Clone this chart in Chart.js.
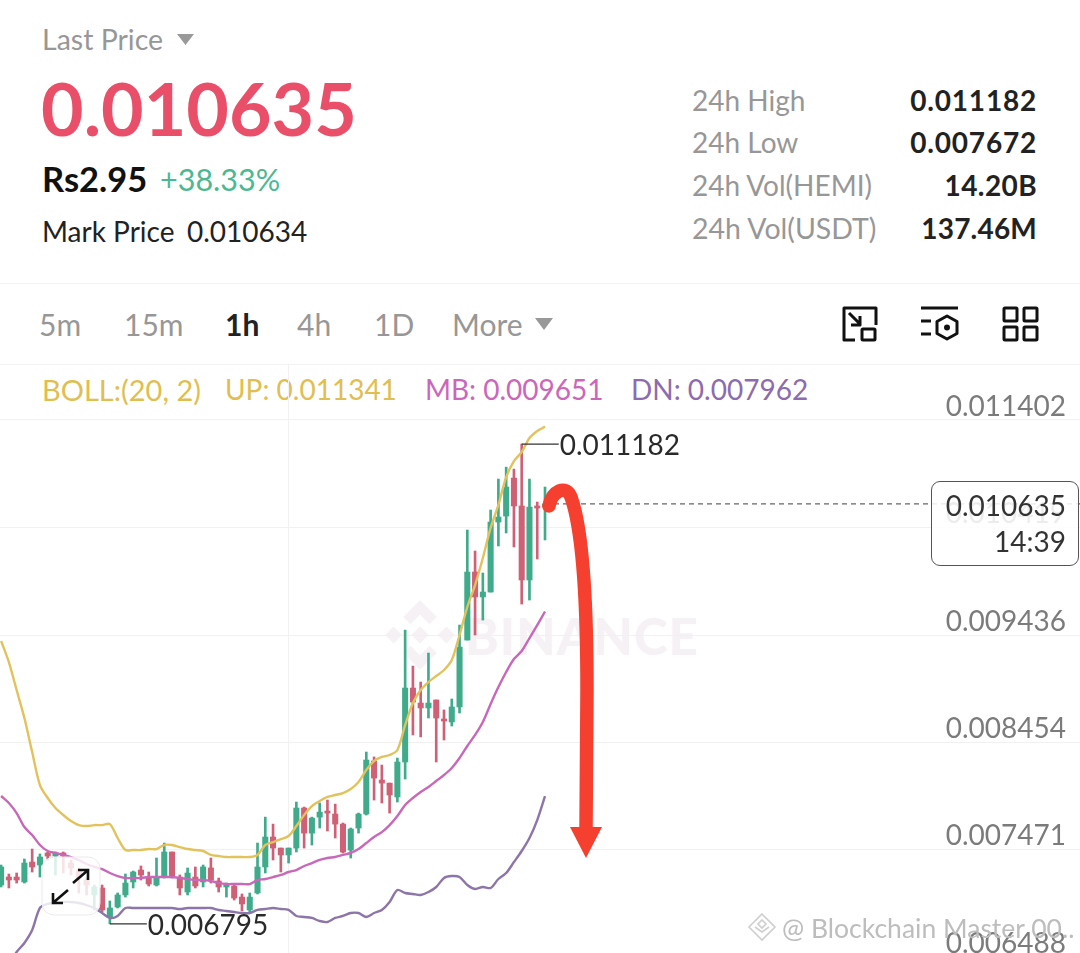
<!DOCTYPE html>
<html><head><meta charset="utf-8">
<script src="https://cdn.jsdelivr.net/npm/chart.js@4/dist/chart.umd.min.js"></script>
<style>
html,body{margin:0;padding:0;width:1080px;height:953px;overflow:hidden;background:#fff;font-family:Lato,sans-serif}
.t{position:absolute;white-space:nowrap;line-height:1;transform:translateY(-50%)}
.r{transform:translate(-100%,-50%)}
.g{color:#979797}
#wm,#box,svg.o,canvas{position:absolute}
</style></head><body>
<div class="t g" style="left:42px;top:39px;font-size:28.500px">Last Price</div>
<div class="t" style="left:41px;top:108px;font-size:73.500px;font-weight:700;color:#EA4F69">0.010635</div>
<div class="t" style="left:42px;top:179px;font-size:34.500px;font-weight:700;color:#111">Rs2.95</div>
<div class="t" style="left:160px;top:179px;font-size:30.500px;color:#4CB892">+38.33%</div>
<div class="t" style="left:42px;top:231px;font-size:28px;color:#222">Mark Price</div>
<div class="t" style="left:187px;top:231px;font-size:28px;color:#222">0.010634</div>
<div class="t g" style="left:692px;top:100px;font-size:28px">24h High</div>
<div class="t g" style="left:692px;top:142px;font-size:28px">24h Low</div>
<div class="t g" style="left:692px;top:185px;font-size:28px">24h Vol(HEMI)</div>
<div class="t g" style="left:692px;top:228px;font-size:28.500px">24h Vol(USDT)</div>
<div class="t r" style="left:1037px;top:100px;font-size:28px;font-weight:700;letter-spacing:.8px;color:#222">0.011182</div>
<div class="t r" style="left:1037px;top:142px;font-size:28px;font-weight:700;letter-spacing:.8px;color:#222">0.007672</div>
<div class="t r" style="left:1037px;top:185px;font-size:28px;font-weight:700;letter-spacing:.4px;color:#222">14.20B</div>
<div class="t r" style="left:1037px;top:228px;font-size:28px;font-weight:700;letter-spacing:.2px;color:#222">137.46M</div>
<div style="position:absolute;left:0;top:283px;width:1080px;height:1px;background:#f4f4f4"></div>
<div style="position:absolute;left:0;top:364px;width:1080px;height:1px;background:#f2f2f2"></div>
<div class="t g" style="left:39px;top:324px;font-size:30px">5m</div>
<div class="t g" style="left:124px;top:324px;font-size:30px">15m</div>
<div class="t" style="left:225px;top:324px;font-size:30px;font-weight:700;color:#222">1h</div>
<div class="t g" style="left:297px;top:324px;font-size:30px">4h</div>
<div class="t g" style="left:374px;top:324px;font-size:30px">1D</div>
<div class="t g" style="left:452px;top:324px;font-size:30px">More</div>
<div class="t" style="left:42px;top:389px;font-size:29px;color:#E0BE50">BOLL:(20, 2)</div>
<div class="t" style="left:225px;top:389px;font-size:28px;color:#E0BE50">UP: 0.011341</div>
<div class="t" style="left:425px;top:389px;font-size:28px;color:#CC66BB">MB: 0.009651</div>
<div class="t" style="left:631px;top:389px;font-size:28px;color:#8E6BAD">DN: 0.007962</div>
<div id="wm" class="t" style="left:465px;top:635px;font-size:51px;font-weight:900;color:#f6f1f5;letter-spacing:1px">BINANCE</div>
<svg class="o" width="1080" height="953" style="left:0;top:0">
<g fill="#f6f1f5" transform="translate(420 635) scale(1.2) translate(-427 -635)"><path d="M427 606l14 14-6 6-8-8-8 8-6-6zM427 664l-14-14 6-6 8 8 8-8 6 6zM398 635l7-7 7 7-7 7zM442 635l7-7 7 7-7 7zM427 628l7 7-7 7-7-7z"/></g>
</svg>
<canvas id="c" width="1080" height="620" style="left:0;top:364px;width:1080px;height:620px"></canvas>
<div id="box" style="left:931px;top:481px;width:146px;height:83px;border:1.5px solid #555;border-radius:9px;background:rgba(255,255,255,.86)"></div>
<div class="t r" style="left:1066px;top:505px;font-size:28px;color:#333">0.010635</div>
<div class="t r" style="left:1066px;top:541px;font-size:28px;color:#333">14:39</div>
<div class="t" style="left:782px;top:928px;font-size:26.500px;color:#bdbdbd">@ Blockchain Master 00..</div>
<svg class="o" width="1080" height="953" style="left:0;top:0">
<path d="M177 34h17l-8.500 11zM535 318h18l-9 12z" fill="#999"/>
<rect x="42" y="857" width="58" height="58" rx="12" fill="rgba(255,255,255,.82)" stroke="#eee8ee" stroke-width="1"/>
<g fill="none" stroke="#111" stroke-width="2.600">
<path d="M73 883L87 871M78 870h10v10M68 890L54 902M53 893v10h10"/>
</g>
<g fill="none" stroke="#111" stroke-width="3" stroke-linejoin="round">
<path d="M855 340h-11v-32h32v17M849 313l11 11M851 325h9v-9"/><rect x="862" y="329" width="13" height="11" rx="1"/>
<path d="M921 308h37M921 321h10M921 334h10"/><path d="M947 316l10 5.500v12l-10 5.500-10-5.500v-12z"/><circle cx="947" cy="327.500" r="1.500"/>
<rect x="1004" y="308" width="13" height="13" rx="1"/><rect x="1024" y="308" width="13" height="13" rx="1"/><rect x="1004" y="327" width="13" height="13" rx="1"/><rect x="1024" y="327" width="13" height="13" rx="1"/>
</g>
<g fill="none" stroke="#cfcfcf" stroke-width="1.600"><path d="M762 914l13 13-13 13-13-13z"/><path d="M755 927l7 5 7-5"/><path d="M762 920l4 4-4 4-4-4z"/></g>
<path d="M549 506C552 491 566 484 571 497C581 525 587 590 587 690L586 830" fill="none" stroke="#F5402F" stroke-width="13.500" stroke-linecap="round"/>
<path d="M570 827h32l-16 31z" fill="#F5402F"/>
</svg>
<script>
// Hourly HEMI/USDT candles, oldest first (index = candle number)
const opens=[0.007150,0.007223,0.007223,0.007178,0.007360,0.007333,0.007443,0.007415,0.007443,0.007351,0.007287,0.007196,0.007059,0.007123,0.006858,0.006949,0.007059,0.007178,0.007287,0.007223,0.007150,0.007223,0.007452,0.007223,0.007086,0.007223,0.007178,0.007306,0.007187,0.007132,0.007141,0.007040,0.006922,0.007077,0.007315,0.007589,0.007488,0.007425,0.007488,0.007854,0.007625,0.007771,0.007826,0.007799,0.007707,0.007470,0.007671,0.007799,0.008284,0.008110,0.008082,0.007955,0.008275,0.008951,0.008814,0.008769,0.008842,0.008668,0.008641,0.008778,0.009390,0.010012,0.009784,0.009829,0.010469,0.010524,0.010871,0.010616,0.009939,0.010616,0.010606];
const closes=[0.007315,0.007196,0.007196,0.007351,0.007315,0.007406,0.007415,0.007443,0.007415,0.007306,0.007214,0.007150,0.007132,0.006922,0.006940,0.007059,0.007168,0.007269,0.007242,0.007159,0.007223,0.007452,0.007223,0.007123,0.007260,0.007141,0.007315,0.007196,0.007132,0.007150,0.007031,0.006977,0.007040,0.007315,0.007589,0.007488,0.007425,0.007488,0.007854,0.007625,0.007762,0.007817,0.007808,0.007707,0.007452,0.007662,0.007799,0.008293,0.008128,0.008082,0.007973,0.008275,0.008951,0.008823,0.008769,0.008814,0.008677,0.008650,0.008778,0.009326,0.010012,0.009784,0.009829,0.010469,0.010515,0.010789,0.010616,0.009939,0.010606,0.010597,0.010635];
const highs=[0.007333,0.007251,0.007260,0.007388,0.007479,0.007434,0.007452,0.007452,0.007452,0.007379,0.007306,0.007214,0.007150,0.007150,0.007004,0.007077,0.007251,0.007278,0.007324,0.007269,0.007397,0.007534,0.007452,0.007242,0.007306,0.007315,0.007333,0.007397,0.007214,0.007168,0.007150,0.007068,0.007077,0.007534,0.007771,0.007707,0.007488,0.007488,0.007909,0.007863,0.007771,0.007900,0.007927,0.007890,0.007717,0.007671,0.007808,0.008366,0.008321,0.008247,0.008082,0.008311,0.009481,0.009152,0.009006,0.009271,0.008842,0.008751,0.008851,0.009527,0.010396,0.010204,0.010003,0.010579,0.010862,0.010971,0.010953,0.011182,0.010862,0.010652,0.010789];
const lows=[0.007132,0.007123,0.007168,0.007168,0.007269,0.007223,0.007379,0.007242,0.007260,0.007242,0.007077,0.007059,0.006922,0.006903,0.006795,0.006940,0.007040,0.007123,0.007196,0.007141,0.007141,0.007214,0.007214,0.007059,0.007059,0.007123,0.007132,0.007168,0.007086,0.007040,0.007013,0.006913,0.006903,0.007068,0.007260,0.007379,0.007269,0.007351,0.007452,0.007488,0.007516,0.007671,0.007644,0.007580,0.007443,0.007397,0.007625,0.007790,0.007927,0.007900,0.007808,0.007909,0.008119,0.008522,0.008504,0.008677,0.008275,0.008476,0.008604,0.008723,0.009390,0.009436,0.009573,0.009829,0.010250,0.010369,0.010241,0.009719,0.009756,0.010131,0.010305];
const bollUp=[0.009381,0.009189,0.008933,0.008677,0.008366,0.008064,0.007946,0.007854,0.007790,0.007735,0.007698,0.007689,0.007698,0.007698,0.007707,0.007580,0.007470,0.007470,0.007470,0.007479,0.007479,0.007516,0.007516,0.007497,0.007479,0.007470,0.007461,0.007425,0.007415,0.007406,0.007406,0.007406,0.007406,0.007425,0.007516,0.007543,0.007570,0.007598,0.007689,0.007790,0.007872,0.007918,0.007955,0.007973,0.007991,0.008028,0.008092,0.008201,0.008284,0.008321,0.008339,0.008385,0.008613,0.008814,0.008933,0.009006,0.009061,0.009116,0.009207,0.009436,0.009692,0.009893,0.010140,0.010415,0.010625,0.010880,0.011026,0.011109,0.011237,0.011301,0.011341];
const bollMb=[0.007964,0.007900,0.007808,0.007680,0.007607,0.007516,0.007461,0.007443,0.007425,0.007406,0.007379,0.007342,0.007315,0.007296,0.007260,0.007232,0.007214,0.007214,0.007214,0.007223,0.007223,0.007223,0.007223,0.007214,0.007205,0.007196,0.007196,0.007187,0.007168,0.007159,0.007159,0.007159,0.007159,0.007196,0.007205,0.007223,0.007242,0.007269,0.007287,0.007324,0.007351,0.007379,0.007397,0.007406,0.007425,0.007443,0.007479,0.007534,0.007589,0.007634,0.007698,0.007781,0.007881,0.007946,0.008001,0.008046,0.008101,0.008156,0.008220,0.008311,0.008421,0.008522,0.008641,0.008805,0.008960,0.009098,0.009216,0.009290,0.009408,0.009527,0.009651];
const bollDn=[0.006327,0.006419,0.006538,0.006620,0.006739,0.006940,0.006977,0.006986,0.006995,0.006995,0.006986,0.006967,0.006940,0.006894,0.006849,0.006867,0.006940,0.006940,0.006940,0.006940,0.006940,0.006940,0.006940,0.006931,0.006940,0.006940,0.006940,0.006940,0.006922,0.006913,0.006903,0.006894,0.006894,0.006922,0.006931,0.006940,0.006931,0.006922,0.006867,0.006858,0.006849,0.006821,0.006812,0.006849,0.006867,0.006894,0.006894,0.006858,0.006894,0.006922,0.006995,0.007104,0.007077,0.007068,0.007059,0.007086,0.007132,0.007214,0.007232,0.007223,0.007150,0.007114,0.007132,0.007123,0.007205,0.007260,0.007360,0.007461,0.007580,0.007744,0.007962];
const priceTicks=[0.011402,0.010419,0.009436,0.008454,0.007471,0.006488];
const lastPrice=0.010635, highPrice=0.011182, lowPrice=0.006795;
const highIndex=67, lowIndex=14, gridIndex=37, xMin=-0.14, xMax=138.85, yMin=0.006245, yMax=0.011914;

const UP='#3FAB8B', DOWN='#CF6075';
const colors=opens.map((o,i)=>closes[i]>=o?UP:DOWN);
const lineSet=(label,arr,color)=>({type:'line',label,data:arr.map((y,x)=>({x,y})),borderColor:color,borderWidth:2.4,pointRadius:0,tension:0.3,order:1});
const noPad=s=>{s.paddingTop=0;s.paddingBottom=0;s.paddingLeft=0;s.paddingRight=0;};

const markers={id:'markers',afterDatasetsDraw(ch){
  const {ctx,scales:{x,y}}=ch;
  ctx.save();ctx.strokeStyle='#333';ctx.lineWidth=1.2;ctx.fillStyle='#2a2a2a';
  ctx.font='28px Lato, sans-serif';ctx.textBaseline='middle';ctx.textAlign='left';
  [[highIndex,highPrice],[lowIndex,lowPrice]].forEach(([i,p])=>{
    const px=x.getPixelForValue(i),py=y.getPixelForValue(p);
    ctx.beginPath();ctx.moveTo(px,py);ctx.lineTo(px+37,py);ctx.stroke();
    ctx.fillText(p.toFixed(6),px+38,py+2);
  });
  ctx.restore();
}};

new Chart(document.getElementById('c'),{
  type:'bar',
  data:{datasets:[
    lineSet('UP',bollUp,'#E2C25C'),
    lineSet('MB',bollMb,'#C768B8'),
    lineSet('DN',bollDn,'#8C75A8'),
    {type:'line',label:'Last',data:[{x:opens.length-1,y:lastPrice},{x:xMax,y:lastPrice}],borderColor:'#666',borderWidth:1.4,borderDash:[5,4],pointRadius:0,order:4},
    {label:'Body',data:opens.map((o,i)=>({x:i,y:[o,closes[i]]})),backgroundColor:colors,barThickness:5.4,grouped:false,order:2,minBarLength:2},
    {label:'Wick',data:opens.map((o,i)=>({x:i,y:[lows[i],highs[i]]})),backgroundColor:colors,barThickness:2,grouped:false,order:3}
  ]},
  options:{
    responsive:false,animation:false,devicePixelRatio:1,
    layout:{padding:0},
    plugins:{legend:{display:false},tooltip:{enabled:false}},
    scales:{
      x:{type:'linear',offset:false,min:xMin,max:xMax,border:{display:false},
         grid:{offset:false,color:'#f3f0f1',drawTicks:false,tickLength:0},
         ticks:{display:false},
         afterBuildTicks:s=>{s.ticks=[{value:gridIndex}];},
         afterFit:s=>{noPad(s);s.height=0;}},
      y:{type:'linear',offset:false,position:'right',min:yMin,max:yMax,border:{display:false},
         grid:{offset:false,color:'#f3f0f1',drawTicks:false,tickLength:0},
         ticks:{mirror:true,padding:-14,labelOffset:-13.500,color:'#7b7b7b',font:{family:'Lato',size:28},callback:v=>Number(v).toFixed(6)},
         afterBuildTicks:s=>{s.ticks=priceTicks.map(value=>({value}));},
         afterFit:s=>{noPad(s);s.width=0;}}
    }
  },
  plugins:[markers]
});
</script>
</body></html>
